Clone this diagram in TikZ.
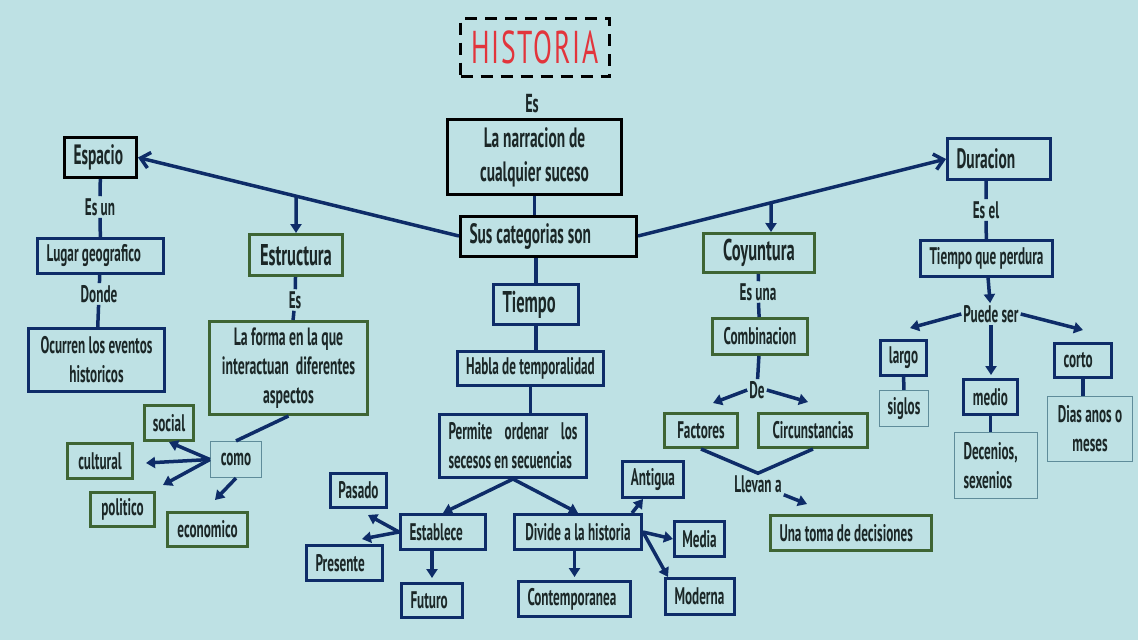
\documentclass[tikz,border=0pt]{standalone}
\usepackage{fontspec}
\setmainfont{PT Sans}[FakeStretch=0.55]
\newfontfamily\titlefont{PT Sans}[FakeStretch=0.6, LetterSpace=4]
\usetikzlibrary{arrows.meta}
\definecolor{bgc}{HTML}{BEE1E4}
\definecolor{navyc}{HTML}{0E2C68}
\definecolor{grnc}{HTML}{3E6534}
\definecolor{litec}{HTML}{5F8C9A}
\definecolor{txtc}{HTML}{1B2727}
\definecolor{redc}{HTML}{E2353C}
\newcommand\fsz[2]{\fontsize{#1}{#2}\selectfont\bfseries\hyphenpenalty=10000 }
\begin{document}
\begin{tikzpicture}[x=1pt,y=-1pt]

\tikzset{
	box/.style={draw, line width=3pt, inner sep=0pt, text=txtc, align=center},
	nbox/.style={box, draw=navyc},
	gbox/.style={box, draw=grnc},
	kbox/.style={box, draw=black},
	lbox/.style={box, draw=litec, line width=1.2pt},
	sz/.style 2 args={minimum width=#1pt, minimum height=#2pt},
	lf/.style 2 args={text width=#1pt, minimum height=#2pt, align=flush left, inner xsep=9pt},
	lbl/.style={inner sep=2pt, text=txtc, font=\fsz{24}{28}},
	f30/.style={font=\fsz{30}{35}},
	f28/.style={font=\fsz{28}{34}},
	f25/.style={font=\fsz{25}{29}},
	f24/.style={font=\fsz{24}{29}},
	conn/.style={draw=navyc, line width=3.5pt},
	arr/.style={conn, -{Triangle[length=9pt,width=11pt]}},
	barb/.style={conn, -{Straight Barb[length=9pt,width=16pt]}},
}
        \fill[bgc] (0,0) rectangle (1138,640);
        \useasboundingbox (0,0) rectangle (1138,640);

        %TITLE
        \node[kbox, dashed, dash pattern=on 12pt off 8pt, sz={149}{58}, text=redc, font=\titlefont\fontsize{46}{50}\selectfont] (hist) at (535,47.5) {HISTORIA};
        \node[lbl, font=\fsz{26}{28}] (es) at (532,104) {Es};
        \node[kbox, f28, sz={174}{75}] (narr) at (534.5,157) {La narracion de\\cualquier suceso};
        \node[kbox, f28, lf={158}{40}] (cat) at (548.5,236) {Sus categorias son};

        %TIEMPO
        \node[nbox, f30, lf={67}{40}] (tiempo) at (536,304.5) {Tiempo};
        \node[nbox, f24, sz={146}{34}] (habla) at (530.5,368.5) {Habla de temporalidad};
        \node[nbox, f24, lf={129}{63}] (permite) at (513,446) {\makebox[\linewidth][s]{Permite ordenar los}\\secesos en secuencias};
        \node[nbox, f24, lf={67}{35}] (establece) at (443,532) {Establece};
        \node[nbox, f24, sz={127}{35}] (divide) at (578,532) {Divide a la historia};
        \node[nbox, f24, sz={56}{34}] (pasado) at (358.5,490.5) {Pasado};
        \node[nbox, f24, lf={58}{35}] (presente) at (344.5,563) {Presente};
        \node[nbox, f24, lf={43}{34}] (futuro) at (432,600.5) {Futuro};
        \node[nbox, f24, sz={61}{36}] (antigua) at (653,479.5) {Antigua};
        \node[nbox, f24, sz={50}{35}] (media) at (699.5,539) {Media};
        \node[nbox, f24, lf={51}{36}] (moderna) at (700,596.5) {Moderna};
        \node[nbox, f24, lf={94}{35}] (contemp) at (574.5,599) {Contemporanea};

        %ESPACIO Y ESTRUCTURA
        \node[kbox, f28, lf={54}{40}] (espacio) at (100.5,157.5) {Espacio};
        \node[lbl] (esun) at (100,207) {Es un};
        \node[nbox, f24, lf={108}{35}] (lugar) at (100.5,256) {Lugar geografico};
        \node[lbl] (donde) at (99,294) {Donde};
        \node[nbox, f24, sz={136}{63}] (ocurren) at (96.5,360) {Ocurren los eventos\\historicos};
        \node[gbox, f30, sz={93}{41}] (estructura) at (296,255) {Estructura};
        \node[lbl] (esa) at (295,300) {Es};
        \node[gbox, f25, sz={158}{93}] (forma) at (288.5,368) {La forma en la que\\interactuan\ \ diferentes\\aspectos};
        \node[lbox, f24, sz={51}{36}] (como) at (236,459.5) {como};
        \node[gbox, f24, sz={49}{35}] (social) at (169,423) {social};
        \node[gbox, f24, sz={65}{35}] (cultural) at (100,461) {cultural};
        \node[gbox, f24, sz={64}{34}] (politico) at (122.5,509.5) {politico};
        \node[gbox, f24, sz={80}{34}] (economico) at (207.5,529.5) {economico};

        %COYUNTURA
        \node[gbox, f30, sz={111}{39}] (coyuntura) at (759,253) {Coyuntura};
        \node[lbl] (esuna) at (758,292) {Es una};
        \node[gbox, f24, sz={95}{36}] (combinacion) at (760,336.5) {Combinacion};
        \node[lbl] (de) at (757,390) {De};
        \node[gbox, f24, sz={73}{34}] (factores) at (701,430.5) {Factores};
        \node[gbox, f24, sz={109}{34}] (circ) at (813,430.5) {Circunstancias};
        \node[lbl] (llevan) at (758,484) {Llevan a};
        \node[gbox, f24, lf={143}{35}] (toma) at (851,533) {Una toma de decisiones};

        %DURACION
        \node[nbox, f28, lf={85}{41}] (duracion) at (999,159) {Duracion};
        \node[lbl] (esel) at (986,210) {Es el};
        \node[nbox, f24, sz={132}{36}] (perdura) at (986.5,258.5) {Tiempo que perdura};
        \node[lbl] (puede) at (991,314) {Puede ser};
        \node[nbox, f24, sz={46}{35}] (largo) at (903.5,358) {largo};
        \node[lbox, f24, sz={49}{36}] (siglos) at (904,408.5) {siglos};
        \node[nbox, f24, sz={54}{35}] (medio) at (990.5,397) {medio};
        \node[lbox, f24, lf={65}{66}] (decenios) at (996,465.5) {Decenios,\\sexenios};
        \node[nbox, f24, lf={39}{34}] (corto) at (1083,360.5) {corto};
        \node[lbox, f24, sz={85}{65}] (dias) at (1090,429) {Dias anos o\\meses};

        %free arrow ends
        \coordinate (tpas) at (368,515);
        \coordinate (tpre) at (362,539);
        \coordinate (tant) at (643,499);
        \coordinate (tcul) at (146,463);
        \coordinate (tpol) at (163,485);
        \coordinate (teco) at (215,500);
        \coordinate (tfac) at (713,403);
        \coordinate (tcir) at (808,402);
        \coordinate (ttom) at (807,504);
        \coordinate (tlar) at (910,328);
        \coordinate (tcor) at (1083,330);

        %CENTER LINES
        \draw[conn] (narr.south) -- (narr.south |- cat.north);
        \draw[conn] (tiempo.north |- cat.south) -- (tiempo.north);
        \draw[conn] (tiempo.south) -- (tiempo.south |- habla.north);
        \draw[conn] (habla.south) -- (habla.south |- permite.north);
        \draw[arr] (permite.south) -- (establece.north);
        \draw[arr] (permite.south) -- (divide.north);
        \draw[arr] (establece.west) -- (tpas);
        \draw[arr] (establece.west) -- (tpre);
        \draw[arr, shorten >=4pt] (futuro.north |- establece.south) -- (futuro.north);
        \draw[arr] ([xshift=-11pt]divide.north east) -- (tant);
        \draw[arr] (divide.east) -- (media.west);
        \draw[arr] (divide.east) -- ([xshift=4pt]moderna.north west);
        \draw[arr, shorten >=3pt] (contemp.north |- divide.south) -- (contemp.north);

        %LEFT LINES
        \draw[barb] (cat.west) -- (espacio.east);
        \coordinate (jl) at (intersection of cat.west--espacio.east and estructura.north--estructura.south);
        \draw[arr] (jl) -- (estructura.north);
        \draw[conn] (espacio) -- (esun) -- (lugar);
        \draw[conn] (lugar) -- (donde) -- (ocurren);
        \draw[conn] (estructura) -- (esa) -- (forma);
        \draw[conn] (forma.south) -- (como.north);
        \draw[arr] (como.west) -- (social.south);
        \draw[arr] (como.west) -- (tcul);
        \draw[arr] (como.west) -- (tpol);
        \draw[arr] (como.south) -- (teco);

        %RIGHT LINES
        \draw[barb] (cat.east) -- (duracion.west);
        \coordinate (cn) at ([xshift=12pt]coyuntura.north);
        \coordinate (cs) at ([xshift=12pt]coyuntura.south);
        \coordinate (jr) at (intersection of cat.east--duracion.west and cn--cs);
        \draw[arr] (jr) -- (cn);
        \draw[conn] (coyuntura) -- (esuna) -- (combinacion);
        \draw[conn] (combinacion) -- (de);
        \draw[arr] (de.west) -- (tfac);
        \draw[arr] (de.east) -- (tcir);
        \draw[conn] (factores.south) -- (llevan.north) -- (circ.south);
        \draw[arr] (llevan.south east) -- (ttom);
        \draw[conn] (duracion.south -| esel) -- (esel) -- (perdura);
        \draw[arr] (perdura) -- (puede);
        \draw[arr] (puede.west) -- (tlar);
        \draw[arr] (puede.east) -- (tcor);
        \draw[arr, shorten >=3pt] (puede.south) -- (puede.south |- medio.north);
        \draw[conn] (largo) -- (siglos);
        \draw[conn] (medio.south) -- (medio.south |- decenios.north);
        \draw[conn] (corto.south) -- (corto.south |- dias.north);
\end{tikzpicture}
\end{document}
